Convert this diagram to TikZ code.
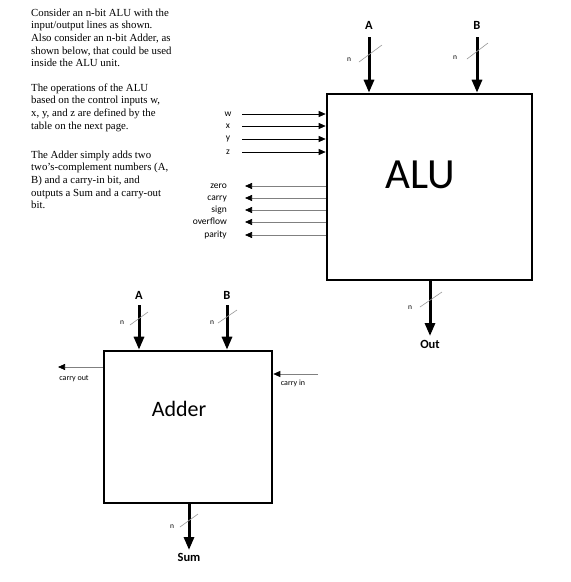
\documentclass[tikz,border=0pt]{standalone}
\usepackage{fontspec}
\setmainfont{Liberation Serif}
\newfontfamily\calfont{Carlito}
\usetikzlibrary{arrows.meta}
\begin{document}
\begin{tikzpicture}[x=1pt,y=-1pt,
  box/.style={draw, line width=2.6pt, inner sep=0pt},
  bus/.style={line width=3pt, -{Triangle[width=10pt,length=13pt]}},
  sig/.style={line width=0.7pt, -{Triangle[width=6pt,length=7pt,color=black,fill=black]}},
  sigout/.style={sig, draw=gray},
  slash/.style={draw=gray!80, line width=0.6pt},
  lbl/.style={font=\calfont\fontsize{9.5}{11}\selectfont, inner sep=0pt},
  smalllbl/.style={font=\calfont\fontsize{8}{10}\selectfont, inner sep=0pt},
  nlbl/.style={font=\calfont\fontsize{7.5}{8}\selectfont, inner sep=0pt},
  boldlbl/.style={font=\calfont\bfseries\fontsize{12.5}{14}\selectfont, inner sep=0pt},
  para/.style={font=\fontsize{10.8}{12.7}\selectfont, inner sep=0pt, anchor=base west}
]
\useasboundingbox[fill=white] (0,0) rectangle (571,582);

% description text
\node[para] (p1) at (31,16) {\parbox[t]{170pt}{\raggedright Consider an n-bit ALU with the\\input/output lines as shown.\\Also consider an n-bit Adder, as\\shown below, that could be used\\inside the ALU unit.}};
\node[para] (p2) at (31,91) {\parbox[t]{170pt}{\raggedright The operations of the ALU\\based on the control inputs w,\\x, y, and z are defined by the\\table on the next page.}};
\node[para] (p3) at (31,158) {\parbox[t]{170pt}{\raggedright The Adder simply adds two\\two's-complement numbers (A,\\B) and a carry-in bit, and\\outputs a Sum and a carry-out\\bit.}};

% ALU
\node[box, minimum width=205pt, minimum height=186pt] (alu) at (429.5,187) {};
\node[font=\calfont\fontsize{43}{48}\selectfont, inner sep=0pt] (alutxt) at (420,175) {ALU};

\node[boldlbl] (lA) at (369,25) {A};
\coordinate (aAs) at (369,37);
\draw[bus] (aAs) -- (aAs |- alu.north);
\draw[slash] (359,62) -- (382,45);
\node[nlbl] (nA) at (349,60) {n};

\node[boldlbl] (lB) at (477,25) {B};
\coordinate (aBs) at (477,37);
\draw[bus] (aBs) -- (aBs |- alu.north);
\draw[slash] (467,59) -- (488,43);
\node[nlbl] (nB) at (455,58) {n};

\coordinate (outend) at (430,336);
\draw[bus] (outend |- alu.south) -- (outend);
\node[boldlbl] (lOut) at (430,344) {Out};
\draw[slash] (420,307) -- (442,292);
\node[nlbl] (nOut) at (410,308) {n};

% control inputs
\foreach \t/\yy in {w/114, x/126, y/139, z/152}{
  \node[lbl] (in\t) at (228,\yy) {\t};
  \coordinate (c\t) at (242,\yy);
  \draw[sig] (c\t) -- (c\t -| alu.west);
}
% flag outputs
\foreach \t/\yy in {zero/186, carry/198, sign/210, overflow/222, parity/235}{
  \node[lbl, anchor=base east] (out\t) at (227,\yy+2.4) {\t};
  \coordinate (o\t) at (245,\yy);
  \draw[sigout] (o\t -| alu.west) -- (o\t);
}

% Adder
\node[box, minimum width=168pt, minimum height=152pt] (adder) at (188,427) {};
\node[font=\calfont\fontsize{22}{26}\selectfont, inner sep=0pt] (addtxt) at (179,409) {Adder};

\node[boldlbl] (dA) at (139,295) {A};
\coordinate (dAs) at (139,305);
\draw[bus] (dAs) -- (dAs |- adder.north);
\draw[slash] (130,325) -- (148,312);
\node[nlbl] (ndA) at (122,323) {n};

\node[boldlbl] (dB) at (227,295) {B};
\coordinate (dBs) at (227,305);
\draw[bus] (dBs) -- (dBs |- adder.north);
\draw[slash] (218,323) -- (237,310);
\node[nlbl] (ndB) at (212,323) {n};

\coordinate (sumend) at (189,550);
\draw[bus] (sumend |- adder.south) -- (sumend);
\node[boldlbl] (lSum) at (189,557) {Sum};
\draw[slash] (180,527) -- (198,514);
\node[nlbl] (nSum) at (172,527) {n};

\coordinate (co) at (58,367);
\draw[sigout] (co -| adder.west) -- (co);
\node[smalllbl] (lco) at (74,379) {carry out};

\coordinate (ci) at (318,374);
\draw[sigout] (ci) -- (ci -| adder.east);
\node[smalllbl] (lci) at (293,383) {carry in};
\end{tikzpicture}
\end{document}
